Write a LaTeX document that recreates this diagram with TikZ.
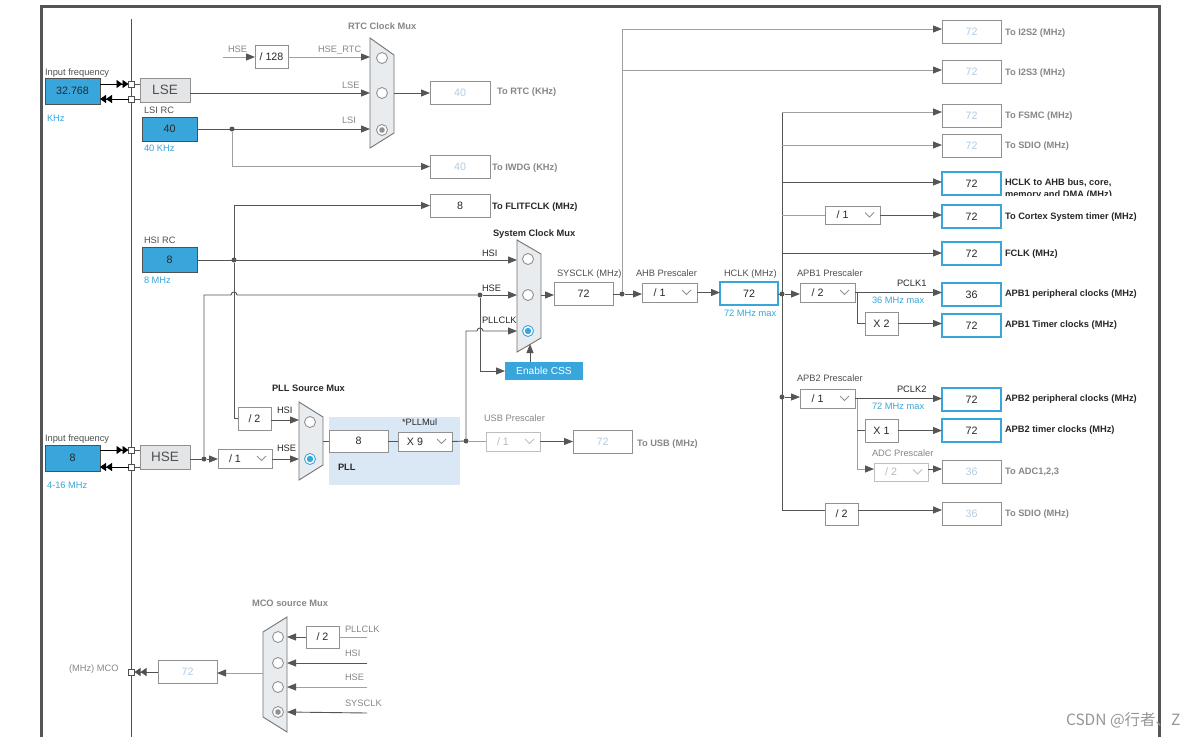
\documentclass[tikz,border=0pt]{standalone}
\usepackage{fontspec}
\setmainfont{Liberation Sans}
\newfontfamily\cjkfont{Noto Sans CJK SC}
\usetikzlibrary{arrows.meta,calc}
\newcommand\fs[1]{\fontsize{#1}{#1}\selectfont}
\newcommand\ddt[1]{#1\hspace{20pt}\mbox{}}
\definecolor{cblue}{RGB}{56,166,219}
\definecolor{cline}{RGB}{85,85,85}
\definecolor{clight}{RGB}{160,160,160}
\definecolor{cbox}{RGB}{145,145,145}
\definecolor{cboxl}{RGB}{190,190,190}
\definecolor{cgt}{RGB}{135,135,135}
\definecolor{cdim}{RGB}{178,204,228}
\definecolor{cdimt}{RGB}{185,185,185}
\definecolor{cdark}{RGB}{40,40,40}
\definecolor{cmid}{RGB}{80,80,80}
\definecolor{cmuxf}{RGB}{232,236,239}
\definecolor{cmuxd}{RGB}{115,115,115}
\definecolor{cpll}{RGB}{218,232,245}
\definecolor{csrc}{RGB}{227,229,231}
\definecolor{cframe}{RGB}{85,85,85}
\definecolor{cwm}{RGB}{150,150,150}
\tikzset{
  every node/.style={inner sep=0pt, outer sep=0pt},
  corners/.style n args={4}{minimum width={#3-#1}, minimum height={#4-#2}, at={({(#1+#3)/2},{(#2+#4)/2})}},
  lbl/.style={font=\fs{9.3}, text=cmid, anchor=base west},
  dlbl/.style={lbl, text=cdark},
  glbl/.style={lbl, text=cgt},
  blbl/.style={lbl, text=cblue},
  bfont/.style={font=\fs{9.3}\bfseries},
  val/.style={draw=cbox, line width=0.9pt, fill=white, font=\fs{10.7}, text=cdark},
  dval/.style={val, text=cdim},
  aval/.style={val, draw=cblue, line width=2.4pt},
  inbox/.style={draw=cmid, line width=0.9pt, fill=cblue, font=\fs{10.7}, text=cdark},
  srcbox/.style={draw=cbox, line width=0.9pt, fill=csrc, font=\fs{13.5}, text=cmid},
  dd/.style={val, path picture={\draw[cbox, line width=0.8pt] ($(path picture bounding box.east)+(-15,-2.5)$) -- ++(4.5,4.5) -- ++(4.5,-4.5);}},
  ddd/.style={val, draw=cboxl, text=cdimt, path picture={\draw[cboxl, line width=0.8pt] ($(path picture bounding box.east)+(-15,-2.5)$) -- ++(4.5,4.5) -- ++(4.5,-4.5);}},
  cssbox/.style={fill=cblue, text=white, font=\fs{10.2}},
  sq/.style={draw=cmid, fill=white, line width=0.8pt, minimum size=6},
  jdot/.style={circle, fill=cline, minimum size=5},
  radio/.style={circle, draw=cbox, fill=white, line width=0.9pt, minimum size=11},
  radiog/.style={radio, path picture={\fill[cbox] (path picture bounding box.center) circle (2.8);}},
  radiob/.style={radio, draw=cblue, path picture={\fill[cblue] (path picture bounding box.center) circle (3.2);}},
  mux/.style={draw=cmuxd, fill=cmuxf, line width=0.9pt},
  ln/.style={draw=cline, line width=0.9pt},
  lln/.style={draw=clight, line width=0.9pt},
  atip/.style={-{Triangle[length=9pt,width=7pt,color=cline]}},
  arr/.style={ln, atip},
  larr/.style={lln, atip},
  dbl/.style={draw=black, line width=0.9pt, -{Triangle[length=6pt,width=8pt]Triangle[length=6pt,width=8pt]}},
}
\begin{document}
\begin{tikzpicture}[x=1pt,y=-1pt]
\fill[white] (0,0) rectangle (1198,736);
\useasboundingbox (0,0) rectangle (1198,736);
\begin{scope}
\clip (0,0) rectangle (1198,736);
\draw[cframe, line width=3pt] (41.5,745) -- (41.5,6) -- (1159,6) -- (1159,745);
\draw[cmid, line width=0.9pt] (131,19) -- (131,745);
\end{scope}

% ---------------- LSE ----------------
\node[lbl] (tif1) at (45,75) {Input frequency};
\node[inbox, corners={45}{78}{100}{104}] (lsein) {32.768};
\node[blbl] (tkhz) at (47,121) {KHz};
\node[sq] (sqa) at (131.5,84) {};
\node[sq] (sqb) at (131.5,99) {};
\node[srcbox, corners={140}{78}{190}{102}] (lse) {LSE};
\draw[dbl] (lsein.east |- sqa) -- (sqa.west);
\draw[dbl] (sqb.west) -- (lsein.east |- sqb);
\draw[ln] (sqa.east) -- (sqa.east -| lse.west);
\draw[ln] (sqb.east) -- (sqb.east -| lse.west);

% ---------------- LSI ----------------
\node[lbl] (tlsi) at (144,113) {LSI RC};
\node[inbox, corners={142}{117}{197}{141}] (lsi) {40};
\node[blbl] (tlsik) at (144,151) {40 KHz};

% ---------------- RTC mux ----------------
\node[val, corners={255}{45}{288}{68}] (d128) {/ 128};
\coordinate (hsea) at (223,57);
\draw[larr] (hsea) -- (hsea -| d128.west);
\node[glbl] (thse1) at (228,52) {HSE};
\draw[mux] (370,38) -- (394,55) -- (394,133) -- (370,148) -- cycle;
\node[radio] (r1) at (382,58) {};
\node[radio] (r2) at (382,93) {};
\node[radiog] (r3) at (382,130) {};
\coordinate (rin1) at (370,57);
\coordinate (rin2) at (370,93);
\coordinate (rin3) at (370,129);
\coordinate (rout) at (394,93);
\draw[larr] (d128.east |- rin1) -- (rin1);
\node[glbl] (thsertc) at (318,52) {HSE\_RTC};
\draw[arr] (lse.east |- rin2) -- (rin2);
\node[glbl] (tlse) at (342,88) {LSE};
\node[jdot] (lsidot) at (232,129) {};
\draw[arr] (lsi.east |- rin3) -- (rin3);
\node[glbl] (tlsi2) at (342,123) {LSI};
\node[glbl, bfont] (trtcmux) at (348,29) {RTC Clock Mux};
\node[dval, corners={430}{81}{490}{104}] (rtc) {40};
\draw[arr] (rout) -- (rout -| rtc.west);
\node[glbl, bfont] (trtc) at (497,94) {To RTC (KHz)};
\node[dval, corners={430}{155}{490}{178}] (iwdg) {40};
\draw[larr] (lsidot) |- (iwdg.west);
\node[glbl, bfont] (tiwdg) at (492,170) {To IWDG (KHz)};
\node[val, corners={430}{194}{490}{217}] (flit) {8};
\node[dlbl, bfont] (tflit) at (492,209) {To FLITFCLK (MHz)};

% ---------------- HSI ----------------
\node[lbl] (thsirc) at (144,243) {HSI RC};
\node[inbox, corners={142}{247}{197}{272}] (hsi) {8};
\node[blbl] (thsim) at (144,283) {8 MHz};

% ---------------- System clock mux ----------------
\draw[mux] (517,240) -- (541,254) -- (541,338) -- (517,352) -- cycle;
\node[radio] (s1) at (528,259) {};
\node[radio] (s2) at (528,295) {};
\node[radiob] (s3) at (528,331) {};
\coordinate (sin1) at (517,260);
\coordinate (sin2) at (517,295);
\coordinate (sin3) at (517,331);
\coordinate (sout) at (541,295);
\coordinate (sbot) at (530,344);
\node[jdot] (hsidot) at (234,260) {};
\draw[arr] (hsi.east |- sin1) -- (sin1);
\draw[arr] (hsidot) |- (flit.west);
\node[dlbl] (tshsi) at (482,256) {HSI};
\node[dlbl] (tshse) at (482,291) {HSE};
\node[dlbl] (tspll) at (482,323) {PLLCLK};
\node[dlbl, bfont] (tsysmux) at (493,236) {System Clock Mux};

% ---------------- HSE ----------------
\node[lbl] (tif2) at (45,441) {Input frequency};
\node[inbox, corners={45}{445}{100}{471}] (hsein) {8};
\node[blbl] (thser) at (47,488) {4-16 MHz};
\node[sq] (sqc) at (131.5,450) {};
\node[sq] (sqd) at (131.5,467) {};
\node[srcbox, corners={140}{445}{190}{469}] (hse) {HSE};
\draw[dbl] (hsein.east |- sqc) -- (sqc.west);
\draw[dbl] (sqd.west) -- (hsein.east |- sqd);
\draw[ln] (sqc.east) -- (sqc.east -| hse.west);
\draw[ln] (sqd.east) -- (sqd.east -| hse.west);
\node[jdot] (hsedot) at (204,459) {};
\node[dd, corners={218}{449}{272}{468}] (dv1) {\ddt{/ 1}};
\draw[ln] (hse.east |- hsedot) -- (hsedot);
\draw[arr] (hsedot) -- (hsedot -| dv1.west);
\node[jdot] (cssdot) at (480,295) {};
\draw[ln] (hsedot) -- (204,295) -- (231,295) arc[start angle=180, end angle=360, radius=3] -- (cssdot);
\draw[arr] (cssdot) -- (sin2);

% ---------------- PLL source mux ----------------
\draw[mux] (299,402) -- (323,417) -- (323,465) -- (299,480) -- cycle;
\node[radio] (p1) at (310,422) {};
\node[radiob] (p2) at (310,459) {};
\coordinate (pin1) at (299,420);
\coordinate (pin2) at (299,459);
\coordinate (pout) at (323,441);
\node[val, corners={238}{407}{271}{430}] (div2) {/ 2};
\draw[ln] (hsidot) |- (div2.west);
\draw[arr] (div2.east |- pin1) -- (pin1);
\draw[arr] (dv1.east |- pin2) -- (pin2);
\node[dlbl] (tphsi) at (277,413) {HSI};
\node[dlbl] (tphse) at (277,451) {HSE};
\node[dlbl, bfont] (tpllmux) at (272,391) {PLL Source Mux};

% ---------------- PLL ----------------
\fill[cpll] (329,417) rectangle (460,485);
\node[val, corners={329}{430}{388}{452}] (pllin) {8};
\draw[ln] (pout) -- (pout -| pllin.west);
\node[dd, corners={398}{432}{452}{451}] (pllmul) {\ddt{X 9}};
\draw[ln] (pllin.east) -- (pllin.east -| pllmul.west);
\node[dlbl] (tpllmul) at (402,425) {*PLLMul};
\node[dlbl, bfont] (tpll) at (338,470) {PLL};
\node[jdot] (plldot) at (466,441) {};
\draw[ln] (pllmul.east) -- (plldot);
\node[ddd, corners={486}{432}{540}{451}] (usbdiv) {\ddt{/ 1}};
\draw[lln] (plldot) -- (plldot -| usbdiv.west);
\node[dval, corners={573}{430}{632}{453}] (usb) {72};
\draw[arr] (usbdiv.east) -- (usbdiv.east -| usb.west);
\node[glbl] (tusbp) at (484,421) {USB Prescaler};
\node[glbl, bfont] (tusb) at (637,446) {To USB (MHz)};
\draw[arr] (plldot) -- (466,331) -- (477,331) arc[start angle=180, end angle=360, radius=3] -- (sin3);

% ---------------- CSS ----------------
\node[cssbox, corners={505}{362}{583}{380}] (css) {Enable CSS};
\draw[arr] (cssdot) |- (css.west);
\draw[arr] (css.north -| sbot) -- (sbot);

% ---------------- SYSCLK / AHB ----------------
\node[val, corners={554}{282}{613}{305}] (sysclk) {72};
\draw[arr] (sout) -- (sout -| sysclk.west);
\node[lbl] (tsysclk) at (557,276) {SYSCLK (MHz)};
\node[jdot] (sysdot) at (622,294) {};
\draw[ln] (sysclk.east |- sysdot) -- (sysdot);
\node[dd, corners={642}{283}{697}{302}] (ahb) {\ddt{/ 1}};
\draw[arr] (sysdot) -- (sysdot -| ahb.west);
\node[lbl] (tahb) at (636,276) {AHB Prescaler};
\node[aval, corners={720}{282}{778}{305}] (hclk) {72};
\draw[arr] (ahb.east) -- (ahb.east -| hclk.west);
\node[lbl] (thclk) at (724,276) {HCLK (MHz)};
\node[blbl] (thclkm) at (724,316) {72 MHz max};
\node[jdot] (hdot) at (782,294) {};
\draw[ln] (hclk.east |- hdot) -- (hdot);

% ---------------- right column boxes ----------------
\node[dval, corners={942}{20}{1001}{43}] (i2s2) {72};
\node[dval, corners={942}{60}{1001}{83}] (i2s3) {72};
\node[dval, corners={942}{104}{1001}{127}] (fsmc) {72};
\node[dval, corners={942}{134}{1001}{157}] (sdioa) {72};
\node[aval, corners={942}{172}{1001}{195}] (ahbo) {72};
\node[aval, corners={942}{205}{1001}{228}] (cortex) {72};
\node[aval, corners={942}{242}{1001}{265}] (fclk) {72};
\node[aval, corners={942}{283}{1001}{306}] (apb1p) {36};
\node[aval, corners={942}{314}{1001}{337}] (apb1t) {72};
\node[aval, corners={942}{388}{1001}{411}] (apb2p) {72};
\node[aval, corners={942}{419}{1001}{442}] (apb2t) {72};
\node[dval, corners={942}{460}{1001}{483}] (adc) {36};
\node[dval, corners={942}{502}{1001}{525}] (sdiob) {36};

\node[glbl, bfont] (ti2s2) at (1005,35) {To I2S2 (MHz)};
\node[glbl, bfont] (ti2s3) at (1005,75) {To I2S3 (MHz)};
\node[glbl, bfont] (tfsmc) at (1005,118) {To FSMC (MHz)};
\node[glbl, bfont] (tsdioa) at (1005,148) {To SDIO (MHz)};
\begin{scope}
\clip (1003,170) rectangle (1150,195.5);
\node[dlbl, bfont] (tahbo1) at (1005,185) {HCLK to AHB bus, core,};
\node[dlbl, bfont] (tahbo2) at (1005,197.5) {memory and DMA (MHz)};
\end{scope}
\node[dlbl, bfont] (tcortex) at (1005,219) {To Cortex System timer (MHz)};
\node[dlbl, bfont] (tfclk) at (1005,256) {FCLK (MHz)};
\node[dlbl, bfont] (tapb1p) at (1005,296) {APB1 peripheral clocks (MHz)};
\node[dlbl, bfont] (tapb1t) at (1005,327) {APB1 Timer clocks (MHz)};
\node[dlbl, bfont] (tapb2p) at (1005,401) {APB2 peripheral clocks (MHz)};
\node[dlbl, bfont] (tapb2t) at (1005,432) {APB2 timer clocks (MHz)};
\node[glbl, bfont] (tadc) at (1005,474) {To ADC1,2,3};
\node[glbl, bfont] (tsdiob) at (1005,516) {To SDIO (MHz)};

% ---------------- SYSCLK branches ----------------
\coordinate (va) at (622,29);
\coordinate (vb) at (622,70);
\draw[lln] (sysdot) -- (va);
\draw[larr] (va) -- (va -| i2s2.west);
\draw[larr] (vb) -- (vb -| i2s3.west);

% ---------------- HCLK branches ----------------
\coordinate (ha) at (782,112);
\coordinate (hb) at (782,145);
\coordinate (hc) at (782,182);
\coordinate (hd) at (782,215);
\coordinate (he) at (782,253);
\coordinate (hz) at (782,510);
\node[jdot] (apb2dot) at (782,397) {};
\draw[ln] (ha) -- (hz);
\draw[larr] (ha) -- (ha -| fsmc.west);
\draw[larr] (hb) -- (hb -| sdioa.west);
\draw[arr] (hc) -- (hc -| ahbo.west);
\node[dd, corners={825}{206}{880}{224}] (cdiv) {\ddt{/ 1}};
\draw[lln] (hd) -- (hd -| cdiv.west);
\draw[arr] (cdiv.east) -- (cdiv.east -| cortex.west);
\draw[arr] (he) -- (he -| fclk.west);

% APB1
\node[dd, corners={800}{283}{855}{302}] (apb1) {\ddt{/ 2}};
\draw[arr] (hdot) -- (hdot -| apb1.west);
\node[lbl] (tapb1) at (797,276) {APB1 Prescaler};
\draw[arr] (apb1.east) -- (apb1.east -| apb1p.west);
\node[dlbl] (tpclk1) at (897,286) {PCLK1};
\node[blbl] (tpclk1m) at (872,303) {36 MHz max};
\node[val, corners={865}{312}{898}{335}] (x2) {X 2};
\coordinate (ba) at (857,292.5);
\draw[ln] (ba) |- (x2.west);
\draw[arr] (x2.east) -- (x2.east -| apb1t.west);

% APB2
\node[dd, corners={800}{389}{855}{408}] (apb2) {\ddt{/ 1}};
\draw[arr] (apb2dot) -- (apb2dot -| apb2.west);
\node[lbl] (tapb2) at (797,381) {APB2 Prescaler};
\draw[arr] (apb2.east) -- (apb2.east -| apb2p.west);
\node[dlbl] (tpclk2) at (897,392) {PCLK2};
\node[blbl] (tpclk2m) at (872,409) {72 MHz max};
\node[val, corners={865}{419}{898}{442}] (x1) {X 1};
\coordinate (bb) at (857,398.5);
\coordinate (bbe) at (857,469);
\draw[lln] (bb) -- (bbe);
\draw[ln] (bb |- x1.west) -- (x1.west);
\draw[arr] (x1.east) -- (x1.east -| apb2t.west);
\node[ddd, corners={874}{463}{928}{481}] (adcdiv) {\ddt{/ 2}};
\draw[larr] (bbe) -- (bbe -| adcdiv.west);
\draw[arr] (adcdiv.east |- bbe) -- (bbe -| adc.west);
\node[glbl] (tadcp) at (872,456) {ADC Prescaler};

% SDIO /2
\node[val, corners={825}{503}{858}{525}] (sddiv) {/ 2};
\draw[ln] (hz) -- (hz -| sddiv.west);
\draw[arr] (sddiv.east |- hz) -- (hz -| sdiob.west);

% ---------------- MCO ----------------
\draw[mux] (263,632) -- (287,617) -- (287,732) -- (263,717) -- cycle;
\node[radio] (m1) at (278,637) {};
\node[radio] (m2) at (278,663) {};
\node[radio] (m3) at (278,687) {};
\node[radiog] (m4) at (278,712) {};
\coordinate (min1) at (287,637);
\coordinate (min2) at (287,663);
\coordinate (min3) at (287,687);
\coordinate (min4) at (287,712);
\coordinate (mout) at (263,673);
\coordinate (mc1) at (367,637);
\coordinate (mc2) at (367,663);
\coordinate (mc3) at (367,687);
\coordinate (mc4) at (367,713);
\node[val, corners={306}{626}{339}{648}] (mdiv) {/ 2};
\draw[lln] (mc1) -- (mc1 -| mdiv.east);
\draw[arr] (mdiv.west |- min1) -- (min1);
\draw[arr] (mc2) -- (min2);
\draw[larr] (mc3) -- (min3);
\draw[arr] (mc4) -- (min4);
\node[glbl] (tmpll) at (345,632) {PLLCLK};
\node[glbl] (tmhsi) at (345,656) {HSI};
\node[glbl] (tmhse) at (345,680) {HSE};
\node[glbl] (tmsys) at (345,706) {SYSCLK};
\node[glbl, bfont] (tmcomux) at (252,606) {MCO source Mux};
\node[dval, corners={158}{660}{217}{683}] (mco) {72};
\draw[larr] (mout) -- (mout -| mco.east);
\node[sq] (sqe) at (131.5,672) {};
\draw[dbl, draw=cmid] (mco.west |- sqe) -- (sqe.east);
\node[glbl] (tmco) at (69,671) {(MHz) MCO};

% ---------------- watermark ----------------
\node[anchor=base west, font=\cjkfont\fs{15.5}, text=cwm] (wm) at (1066,725) {CSDN @行者、Z};
\end{tikzpicture}
\end{document}
